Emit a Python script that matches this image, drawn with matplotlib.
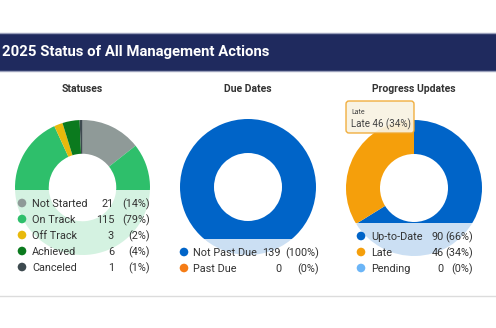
import matplotlib
matplotlib.use("Agg")
import matplotlib.pyplot as plt
from matplotlib.patches import Rectangle, Circle, FancyBboxPatch

plt.rcParams['font.family'] = ['Roboto', 'DejaVu Sans']

W, H = 496, 328

title = "2025 Status of All Management Actions"

status_labels = ["Not Started", "On Track", "Off Track", "Achieved", "Canceled"]
status_values = [21, 115, 3, 6, 1]
status_colors = ["#8f9a98", "#2ebf6b", "#e8b90c", "#0b7a1e", "#3d4a4f"]

due_labels = ["Not Past Due", "Past Due"]
due_values = [139, 0]
due_colors = ["#0064c8", "#f57c16"]

prog_labels = ["Up-to-Date", "Late", "Pending"]
prog_values = [90, 46, 0]
prog_colors = ["#0064c8", "#f59f0b", "#6bb5f7"]

panels = [
    dict(name="Statuses", labels=status_labels, values=status_values, colors=status_colors,
         cx=82.5, cy=187.5, r=67.5, mx=22, lx=32, nx=114, px=150, row0=203),
    dict(name="Due Dates", labels=due_labels, values=due_values, colors=due_colors,
         cx=248, cy=187, r=68, mx=184, lx=193, nx=281, px=319, row0=252),
    dict(name="Progress Updates", labels=prog_labels, values=prog_values, colors=prog_colors,
         cx=414, cy=188, r=68, mx=361, lx=371, nx=444, px=473, row0=236),
]

fig = plt.figure(figsize=(W / 100, H / 100), dpi=100)
fig.patch.set_facecolor("white")

# background layer (pixel coordinates)
bg = fig.add_axes([0, 0, 1, 1], zorder=0)
bg.set_xlim(0, W); bg.set_ylim(H, 0); bg.axis("off")
bg.add_patch(Rectangle((0, 32.5), W, 38, facecolor="#1f2a5e", edgecolor="none"))
bg.plot([0, W], [33, 33], color="#9aa0bb", lw=1)
bg.plot([0, W], [70.5, 70.5], color="#9aa0bb", lw=1)
bg.text(2, 52, title, color="white", fontsize=10.7, fontweight="bold", va="center", ha="left")
bg.plot([0, W], [295.5, 295.5], color="#dcdcdc", lw=1)

for p in panels:
    cx, cy, r = p["cx"], p["cy"], p["r"]
    ax = fig.add_axes([(cx - r) / W, 1 - (cy + r) / H, 2 * r / W, 2 * r / H], zorder=1)
    ax.pie(p["values"], colors=p["colors"], startangle=90, counterclock=False, radius=1,
           wedgeprops=dict(width=0.5, edgecolor="none", linewidth=0))
    ax.set_xlim(-1, 1); ax.set_ylim(-1, 1); ax.set_aspect("equal"); ax.axis("off")

top = fig.add_axes([0, 0, 1, 1], zorder=5)
top.set_xlim(0, W); top.set_ylim(H, 0); top.axis("off")
top.patch.set_alpha(0)

for p in panels:
    cx, cy, r = p["cx"], p["cy"], p["r"]
    top.text(cx, 89, p["name"], fontsize=7.5, fontweight="bold", color="#333333",
             ha="center", va="center")
    y0 = p["row0"] - 13
    top.add_patch(Rectangle((cx - r - 3, y0), 2 * r + 6, cy + r + 3 - y0,
                            facecolor="white", alpha=0.8, edgecolor="none"))
    total = sum(p["values"])
    for i, (lab, val, col) in enumerate(zip(p["labels"], p["values"], p["colors"])):
        y = p["row0"] + 16 * i
        top.add_patch(Circle((p["mx"], y), 4.3, facecolor=col, edgecolor="none"))
        top.text(p["lx"], y, lab, fontsize=7.8, color="#333333", ha="left", va="center_baseline")
        top.text(p["nx"], y, f"{val}", fontsize=7.8, color="#333333", ha="right", va="center_baseline")
        pct = round(100 * val / total) if total else 0
        top.text(p["px"], y, f"({pct}%)", fontsize=7.8, color="#333333", ha="right", va="center_baseline")

# tooltip
top.add_patch(FancyBboxPatch((346, 101), 68, 32, boxstyle="round,pad=0,rounding_size=3",
                             facecolor="#f8f2e2", alpha=0.92, edgecolor="#f0a830", lw=1))
top.text(351, 111, "Late", fontsize=5.0, color="#444444", ha="left", va="center_baseline")
top.text(351, 122.5, "Late 46 (34%)", fontsize=7.0, color="#444444", ha="left", va="center_baseline")

fig.savefig("out.png", dpi=100)
